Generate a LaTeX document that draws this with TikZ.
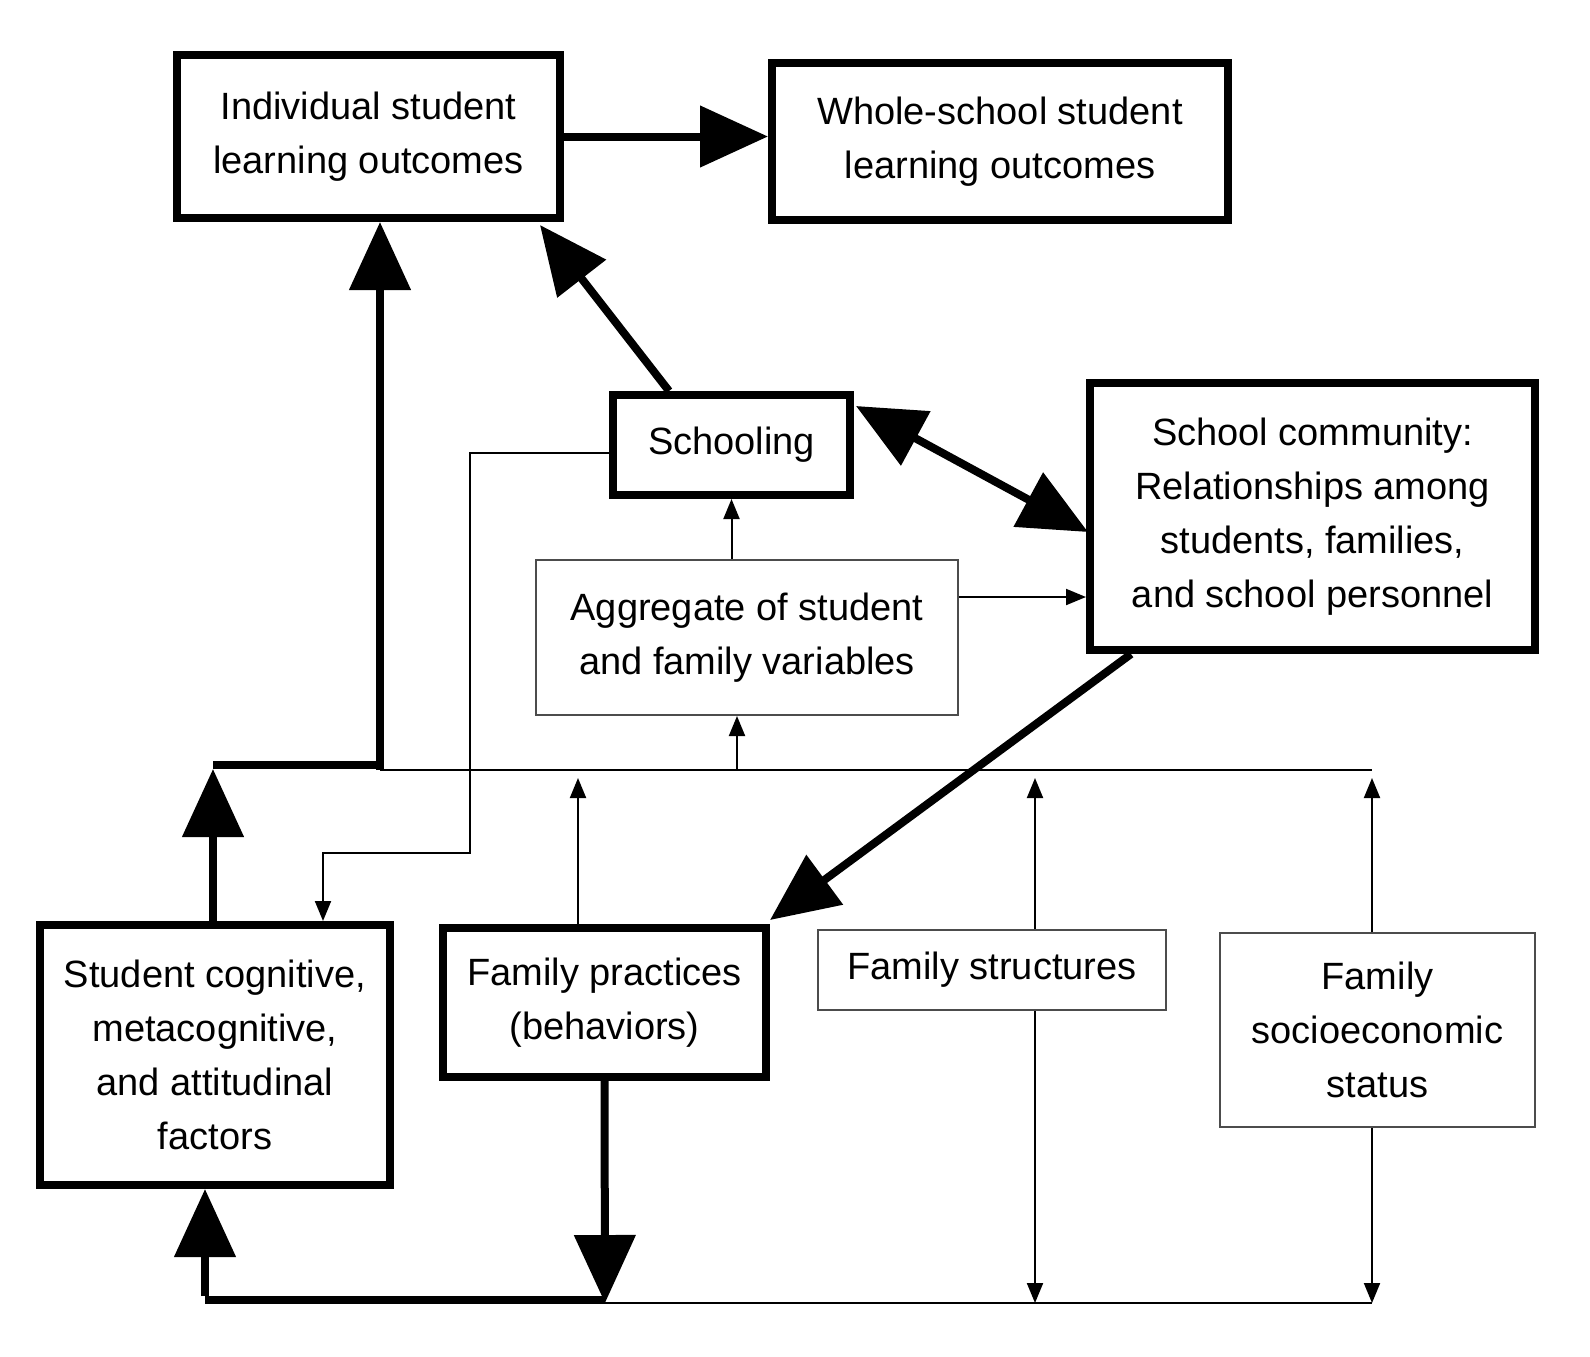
\documentclass[tikz,border=0pt]{standalone}
\usepackage{fontspec}
\setmainfont{Liberation Sans}
\usetikzlibrary{arrows.meta}
\begin{document}
\begin{tikzpicture}[x=0.5pt,y=-0.5pt,
  thickbox/.style={draw=black,line width=4pt,align=center,inner sep=2pt,font=\fontsize{19}{27}\selectfont},
  thinbox/.style={draw=black!70,line width=1pt,align=center,inner sep=2pt,font=\fontsize{19}{27}\selectfont},
  big/.style={line width=4pt,-{Triangle[width=30pt,length=34pt]}},
  bigb/.style={line width=4pt,{Triangle[width=30pt,length=34pt]}-{Triangle[width=30pt,length=34pt]}},
  small/.style={line width=1pt,-{Triangle[width=8pt,length=10pt]}},
  thinl/.style={line width=1pt}]
\useasboundingbox (0,0) rectangle (1590,1356);
\node[thickbox,minimum width=191.5pt,minimum height=81.5pt] (ind) at (368.5,136.5) {Individual student\\learning outcomes};
\node[thickbox,minimum width=228pt,minimum height=78.5pt] (whole) at (1000,141.5) {Whole-school student\\learning outcomes};
\node[thickbox,minimum width=118.5pt,minimum height=50pt] (sch) at (731.5,445) {Schooling};
\node[thickbox,minimum width=222.5pt,minimum height=133.5pt] (com) at (1312.5,516.5) {School community:\\Relationships among\\students, families,\\and school personnel};
\node[thinbox,minimum width=211pt,minimum height=77.5pt] (agg) at (747,637.5) {Aggregate of student\\and family variables};
\node[thickbox,minimum width=175pt,minimum height=130pt] (cog) at (215,1055) {Student cognitive,\\metacognitive,\\and attitudinal\\factors};
\node[thickbox,minimum width=161.5pt,minimum height=74.5pt] (prac) at (604.5,1002.5) {Family practices\\(behaviors)};
\node[thinbox,minimum width=174pt,minimum height=40pt] (str) at (992,970) {Family structures};
\node[thinbox,minimum width=157.5pt,minimum height=97pt] (ses) at (1377.5,1030) {Family\\socioeconomic\\status};
\coordinate (busL) at (380,770);
\coordinate (busR) at (1372,770);
\coordinate (botL) at (605,1303);
\coordinate (botR) at (1372,1303);
\coordinate (cogT) at (213,765);
\coordinate (cogB) at (205,1300);
\coordinate (sw) at (470,453);
\draw[big] (ind.east) -- (ind.east -| whole.west);
\draw[big] (busL) -- (ind.south -| busL);
\draw[line width=4pt] (cogT) -- (busL |- cogT) -- (busL);
\draw[big] (cog.north -| cogT) -- ([yshift=-2pt]cogT);
\draw[thinl] (busL) -- (busR);
\draw[big] (sch.north west) ++(60,0) -- (540,225);
\draw[bigb] (sch.north east) ++(2,15) -- (1088,532);
\draw[small] (agg.north -| sch.south) -- (sch.south);
\draw[small] (agg.east |- 0,597) -- (com.west |- 0,597);
\draw[small] (737,770) -- (agg.south -| 737,0);
\draw[small] (prac.north -| 578,0) -- (578,778);
\draw[small] (str.north -| 1035,0) -- (1035,778);
\draw[small] (ses.north -| busR) -- (1372,778);
\draw[small] (sch.west |- sw) -- (sw) -- (470,853) -- (323,853) -- (cog.north -| 323,0);
\draw[big] (com.south west) ++(45,0) -- (770,920);
\draw[big] (prac.south) -- (botL);
\draw[thinl] (botL) -- (botR);
\draw[line width=4pt] (botL) ++(0,-3) -- (cogB);
\draw[big] ([yshift=2pt]cogB) -- (cog.south -| cogB);
\draw[small] (str.south -| 1035,0) -- (1035,1303);
\draw[small] (ses.south -| botR) -- (botR);
\end{tikzpicture}
\end{document}
